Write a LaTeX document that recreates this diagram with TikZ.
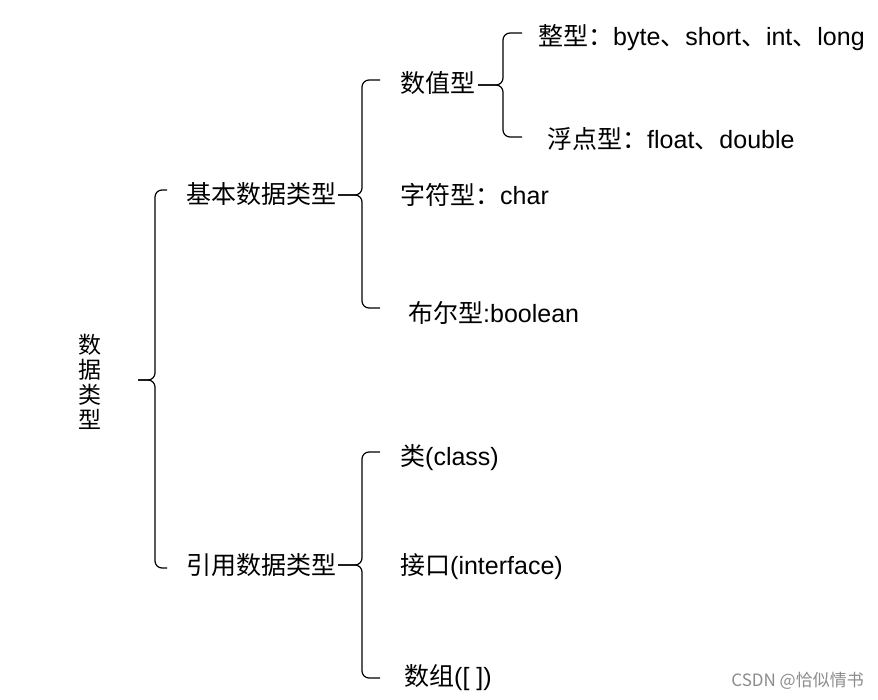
\documentclass[tikz,border=0pt]{standalone}
\usepackage{fontspec}
\setmainfont{Liberation Sans}
\newfontfamily\cjk{Noto Sans CJK SC}
\begin{document}
\begin{tikzpicture}[x=1pt,y=-1pt,
  lbl/.style={inner sep=0pt, anchor=west, text height=20pt, text depth=4pt, font=\fontsize{25}{28}\selectfont},
  brace/.style={line width=1.2pt, rounded corners=7pt}]
\useasboundingbox[fill=white] (0,0) rectangle (878,699);
% texts
\node[inner sep=0pt, anchor=center, align=center, font=\cjk\fontsize{23}{25}\selectfont] (root) at (90,382) {数\\据\\类\\型};
\node[lbl] (basic) at (186,195) {\cjk 基本数据类型};
\node[lbl] (ref) at (186,566) {\cjk 引用数据类型};
\node[lbl] (num) at (400,84) {\cjk 数值型};
\node[lbl] (chr) at (400,196) {{\cjk 字符型：}char};
\node[lbl] (bool) at (408,314) {{\cjk 布尔型}:boolean};
\node[lbl] (int) at (538,37) {{\cjk 整型：}byte{\cjk 、}short{\cjk 、}int{\cjk 、}long};
\node[lbl] (flt) at (547,140) {{\cjk 浮点型：}float{\cjk 、}double};
\node[lbl] (cls) at (400,457) {{\cjk 类}(class)};
\node[lbl] (ifc) at (400,566) {{\cjk 接口}(interface)};
\node[lbl] (arr) at (404,677) {{\cjk 数组}([ ])};
\node[inner sep=0pt, anchor=east, text=black!45, font=\cjk\fontsize{17}{19}\selectfont] (wm) at (864,681) {CSDN @恰似情书};
% brace anchor coordinates
\coordinate (r1) at (138,380);
\coordinate (r1a) at (167,190);
\coordinate (r1b) at (167,568);
\coordinate (b1) at (338,195);
\coordinate (b1a) at (380,80);
\coordinate (b1b) at (380,308);
\coordinate (n1) at (478,85);
\coordinate (n1a) at (522,33);
\coordinate (n1b) at (522,137);
\coordinate (f1) at (338,565);
\coordinate (f1a) at (380,452);
\coordinate (f1b) at (380,678);
% braces
\draw[brace] (r1a) -- (155,190) -- (155,380) -- (r1);
\draw[brace] (r1b) -- (155,568) -- (155,380) -- (r1);
\draw[brace] (b1a) -- (362,80) -- (362,195) -- (b1);
\draw[brace] (b1b) -- (362,308) -- (362,195) -- (b1);
\draw[brace] (n1a) -- (503,33) -- (503,85) -- (n1);
\draw[brace] (n1b) -- (503,137) -- (503,85) -- (n1);
\draw[brace] (f1a) -- (362,452) -- (362,565) -- (f1);
\draw[brace] (f1b) -- (362,678) -- (362,565) -- (f1);
\end{tikzpicture}
\end{document}
